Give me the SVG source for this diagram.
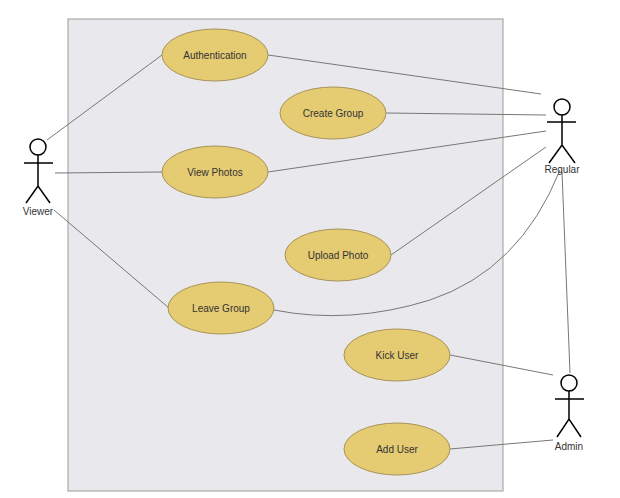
<svg xmlns="http://www.w3.org/2000/svg" width="620" height="498" viewBox="0 0 620 498">
<style>
.uc ellipse{fill:#e5cb72;stroke:#a89358;stroke-width:1}
text{font-family:"Liberation Sans",Arial,sans-serif;font-size:10px;fill:#333;text-anchor:middle}
.act{fill:none;stroke:#000;stroke-width:1.5}
#connectors *{fill:none;stroke:#777;stroke-width:1}
</style>
<rect x="0" y="0" width="620" height="498" fill="#fff"/>
<rect x="68" y="19" width="435" height="472" fill="#e9e8ec" stroke="#aaa" stroke-width="1.2"/>
<g id="connectors">
<line x1="47" y1="140" x2="162" y2="55"/>
<line x1="55" y1="173" x2="162" y2="172"/>
<line x1="54" y1="210" x2="169" y2="308"/>
<line x1="268" y1="55" x2="541" y2="94"/>
<line x1="386" y1="113" x2="546" y2="115"/>
<line x1="268" y1="172" x2="546" y2="131"/>
<line x1="391" y1="255" x2="546" y2="147"/>
<path d="M274 310 Q 350 325 430 300 Q 520 270 560 170"/>
<line x1="570" y1="373" x2="562" y2="172"/>
<line x1="450" y1="355" x2="553" y2="375"/>
<line x1="450" y1="449" x2="553" y2="440"/>
</g>
<g id="viewer"><circle class="act" cx="38" cy="147" r="8"/><path class="act" d="M38 155V186M24 163H53M26 203L38 186L50 203"/><text x="38" y="215">Viewer</text></g>
<g id="regular"><circle class="act" cx="562" cy="107" r="8"/><path class="act" d="M562 115V145M547 122H576M549 163L562 145L575 163"/><text x="562" y="173">Regular</text></g>
<g id="admin"><circle class="act" cx="569" cy="383" r="8"/><path class="act" d="M569 391V419M555 399H584M557 437L569 419L581 437"/><text x="569" y="450">Admin</text></g>
<g id="auth" class="uc"><ellipse cx="215" cy="55" rx="53" ry="26"/><text x="215" y="59">Authentication</text></g>
<g id="create" class="uc"><ellipse cx="333" cy="113" rx="53" ry="26"/><text x="333" y="117">Create Group</text></g>
<g id="view" class="uc"><ellipse cx="215" cy="172" rx="53" ry="26"/><text x="215" y="176">View Photos</text></g>
<g id="upload" class="uc"><ellipse cx="338" cy="255" rx="53" ry="26"/><text x="338" y="259">Upload Photo</text></g>
<g id="leave" class="uc"><ellipse cx="221" cy="308" rx="53" ry="26"/><text x="221" y="312">Leave Group</text></g>
<g id="kick" class="uc"><ellipse cx="397" cy="355" rx="53" ry="26"/><text x="397" y="359">Kick User</text></g>
<g id="add" class="uc"><ellipse cx="397" cy="449" rx="53" ry="26"/><text x="397" y="453">Add User</text></g>
</svg>
